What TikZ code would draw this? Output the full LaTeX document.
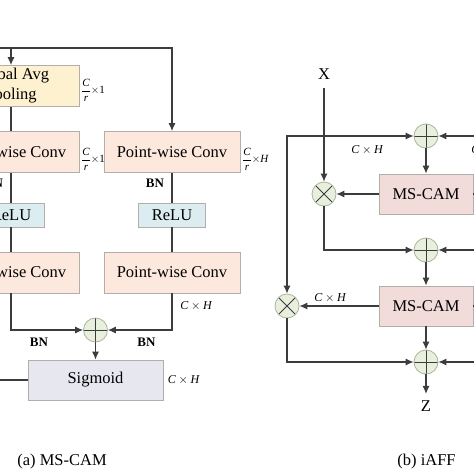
\documentclass[tikz,border=0pt]{standalone}
\usepackage{fontspec}
\setmainfont{Liberation Serif}
\usetikzlibrary{arrows.meta}
\definecolor{linecol}{HTML}{3C3C3C}
\definecolor{boxgray}{HTML}{B4AEAA}
\definecolor{gapfill}{HTML}{FDF1CF}
\definecolor{pwfill}{HTML}{FCE8DC}
\definecolor{relufill}{HTML}{DCEDF2}
\definecolor{sigfill}{HTML}{E7E7F0}
\definecolor{msfill}{HTML}{F2DCDA}
\definecolor{circfill}{HTML}{E8EFDD}
\definecolor{circline}{HTML}{A9B49C}
\begin{document}
\begin{tikzpicture}[x=1pt,y=-1pt,
  mainfont/.style={font=\fontsize{16.5}{20}\selectfont},
  blk/.style={draw=boxgray, line width=0.8pt, inner sep=0pt, align=center, mainfont},
  pwbox/.style={blk, fill=pwfill, minimum width=136pt, minimum height=41pt},
  gapbox/.style={blk, fill=gapfill, minimum width=136pt, minimum height=41pt},
  relubox/.style={blk, fill=relufill, minimum width=67pt, minimum height=24pt},
  sigbox/.style={blk, fill=sigfill, minimum width=135pt, minimum height=40pt},
  msbox/.style={blk, fill=msfill, minimum width=94pt, minimum height=40pt},
  opl/.style={circle, draw=circline, line width=0.8pt, fill=circfill, minimum size=24pt, inner sep=0pt,
    path picture={\draw[linecol,line width=1pt] (path picture bounding box.north) -- (path picture bounding box.south)
      (path picture bounding box.west) -- (path picture bounding box.east);}},
  otm/.style={circle, draw=circline, line width=0.8pt, fill=circfill, minimum size=24pt, inner sep=0pt,
    path picture={\draw[linecol,line width=1pt] (path picture bounding box.north west) -- (path picture bounding box.south east)
      (path picture bounding box.north east) -- (path picture bounding box.south west);}},
  ln/.style={draw=linecol, line width=1.1pt},
  arr/.style={ln, -{Latex[length=8pt,width=7pt]}},
  arrb/.style={ln, {Latex[length=8pt,width=7pt]}-{Latex[length=8pt,width=7pt]}},
  bnlab/.style={font=\fontsize{13}{14}\selectfont\bfseries, inner sep=0pt},
  dimlab/.style={font=\fontsize{12}{13}\selectfont, inner sep=0pt},
  fraclab/.style={font=\fontsize{11}{12}\selectfont, inner sep=0pt},
  txt/.style={mainfont, inner sep=0pt}
]
\clip (0,0) rectangle (474,474);
\fill[white] (0,0) rectangle (474,474);

% ---------- (a) MS-CAM ----------
\node[gapbox] (gap) at (11,86) {Global Avg\\Pooling};
\node[pwbox] (pw1) at (11,152) {Point-wise Conv};
\node[pwbox] (pw2) at (172,152) {Point-wise Conv};
\node[relubox] (relu1) at (11,215) {ReLU};
\node[relubox] (relu2) at (172,215) {ReLU};
\node[pwbox] (pw3) at (11,272.5) {Point-wise Conv};
\node[pwbox] (pw4) at (172,272.5) {Point-wise Conv};
\node[opl] (opS) at (95.5,330) {};
\node[sigbox] (sig) at (95.5,380) {Sigmoid};

\coordinate (inL) at (-10,48);
\coordinate (outL) at (-10,380);

\draw[arr] (inL) -| (pw2.north);
\draw[arr] (gap.north |- inL) -- (gap.north);
\draw[ln] (gap.south) -- (pw1.north);
\draw[ln] (pw1.south) -- (relu1.north);
\draw[ln] (relu1.south) -- (pw3.north);
\draw[ln] (pw2.south) -- (relu2.north);
\draw[ln] (relu2.south) -- (pw4.north);
\draw[arr] (pw3.south) |- (opS.west);
\draw[arr] (pw4.south) |- (opS.east);
\draw[arr] (opS.south) -- (sig.north);
\draw[ln] (outL) -- (sig.west);

\node[fraclab, anchor=west] (f1) at (81,90) {$\displaystyle\frac{\textit{C}}{\textit{r}}{\times}\textrm{1}$};
\node[fraclab, anchor=west] (f2) at (81,159) {$\displaystyle\frac{\textit{C}}{\textit{r}}{\times}\textrm{1}$};
\node[fraclab, anchor=west] (f3) at (242,159) {$\displaystyle\frac{\textit{C}}{\textit{r}}{\times}\textit{H}$};
\node[bnlab] (bn1) at (-6,183) {BN};
\node[bnlab] (bn2) at (155,183) {BN};
\node[bnlab] (bn3) at (39,342) {BN};
\node[bnlab] (bn4) at (146.5,342) {BN};
\node[dimlab] (d1) at (196,306) {$\textit{C}\times\textit{H}$};
\node[dimlab] (d2) at (183.5,380.5) {$\textit{C}\times\textit{H}$};

% ---------- (b) iAFF ----------
\node[txt, inner sep=8pt] (X) at (324,74) {X};
\node[otm] (otA) at (324,194) {};
\node[opl] (opA) at (426,136) {};
\node[msbox] (ms1) at (426,194) {MS-CAM};
\node[opl] (opB) at (426,250) {};
\node[msbox] (ms2) at (426,306) {MS-CAM};
\node[otm] (otB) at (287,306) {};
\node[opl] (opC) at (426,362) {};
\node[txt, inner sep=7pt] (Z) at (426,406.5) {Z};

\coordinate (inR1) at (495,136);
\coordinate (inR2) at (495,250);
\coordinate (inR3) at (495,362);
\coordinate (outR1) at (495,194);
\coordinate (outR2) at (495,306);

\draw[arrb] (opA.west) -| (otB.north);
\draw[arr] (X.south) -- (otA.north);
\draw[arr] (inR1) -- (opA.east);
\draw[arr] (opA.south) -- (ms1.north);
\draw[arr] (ms1.west) -- (otA.east);
\draw[ln] (ms1.east) -- (outR1);
\draw[arr] (otA.south) |- (opB.west);
\draw[arr] (inR2) -- (opB.east);
\draw[arr] (opB.south) -- (ms2.north);
\draw[arr] (ms2.west) -- (otB.east);
\draw[ln] (ms2.east) -- (outR2);
\draw[arr] (otB.south) |- (opC.west);
\draw[arr] (ms2.south) -- (opC.north);
\draw[arr] (inR3) -- (opC.east);
\draw[arr] (opC.south) -- (Z.north);

\node[dimlab] (d3) at (367,150) {$\textit{C}\times\textit{H}$};
\node[dimlab] (d4) at (487,150) {$\textit{C}\times\textit{H}$};
\node[dimlab] (d5) at (330,298) {$\textit{C}\times\textit{H}$};

% captions
\node[txt] (capa) at (62,462) {(a) MS-CAM};
\node[txt] (capb) at (426.5,462) {(b) iAFF};
\end{tikzpicture}
\end{document}
